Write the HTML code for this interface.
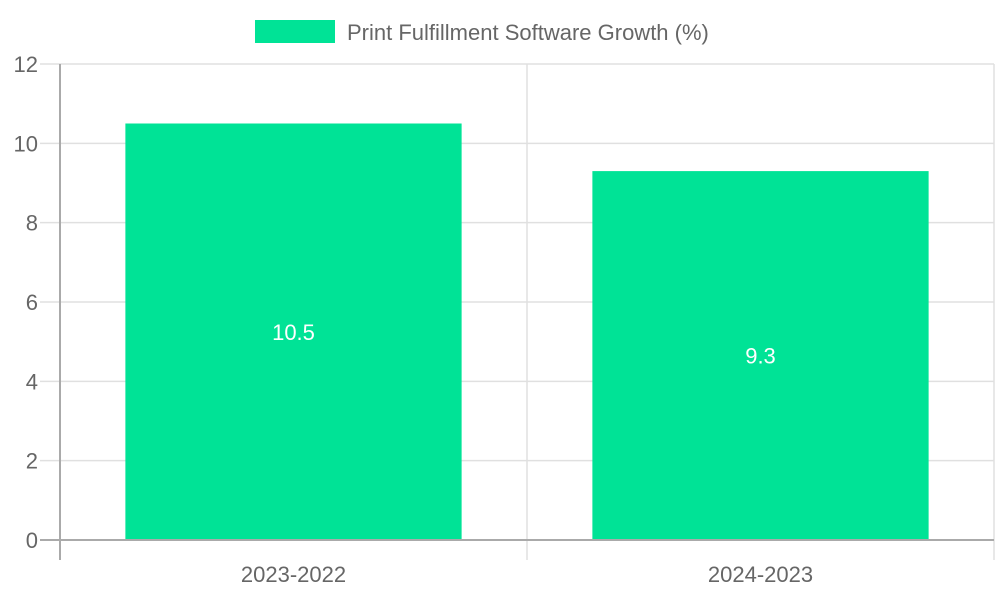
<!DOCTYPE html>
<html><head><meta charset="utf-8"><style>
html,body{margin:0;padding:0;background:#fff;}
svg{display:block;font-family:"Liberation Sans",sans-serif;}
</style></head><body>
<svg id="chart" width="1000" height="600">
<g>
<rect x="255" y="20" width="80" height="23" fill="#00e396"/>
<text x="347" y="40" font-size="22" fill="#666">Print Fulfillment Software Growth (%)</text>
</g>
<g id="grid"></g>
<g id="bars"></g>
<g id="axes"></g>
</svg>
<script>
const categories = ["2023-2022", "2024-2023"];
const values = [10.5, 9.3];
const yTicks = [0, 2, 4, 6, 8, 10, 12];
const NS = "http://www.w3.org/2000/svg";
const L = 60, R = 994, T = 64, B = 540, yMax = 12;
const y = v => B - (v / yMax) * (B - T);
const band = (R - L) / categories.length;
const x = i => L + i * band;
function mk(tag, attrs, parent) {
  const e = document.createElementNS(NS, tag);
  for (const k in attrs) e.setAttribute(k, attrs[k]);
  parent.appendChild(e);
  return e;
}
const grid = document.getElementById('grid');
const bars = document.getElementById('bars');
const axes = document.getElementById('axes');
yTicks.forEach(t => {
  const ln = mk('line', {x1: 40, x2: R, y1: y(t), y2: y(t), stroke: t === 0 ? '#aaa' : '#e0e0e0', 'stroke-width': t === 0 ? 2 : 1.5}, t === 0 ? axes : grid);
  
  
  const tx = mk('text', {x: 38, y: y(t) + 8, 'text-anchor': 'end', 'font-size': 22, fill: '#666'}, axes);
  tx.textContent = t;
  
  
});
for (let i = 0; i <= categories.length; i++) {
  const ln = mk('line', {x1: x(i), x2: x(i), y1: T, y2: 560, stroke: i === 0 ? '#aaa' : '#e0e0e0', 'stroke-width': i === 0 ? 2 : 1.5}, i === 0 ? axes : grid);
  
  
}
categories.forEach((c, i) => {
  const bw = band * 0.72;
  const cx = x(i) + band / 2;
  const r = mk('rect', {x: cx - bw / 2, y: y(values[i]), width: bw, height: B - y(values[i]), fill: '#00e396'}, bars);
  
  
  const v = mk('text', {x: cx, y: (y(values[i]) + B) / 2 + 8, 'text-anchor': 'middle', 'font-size': 22, fill: '#fff'}, bars);
  v.textContent = values[i];
  
  
  const lb = mk('text', {x: cx, y: 582, 'text-anchor': 'middle', 'font-size': 22, fill: '#666'}, axes);
  lb.textContent = c;
  
  
});
</script>
</body></html>
